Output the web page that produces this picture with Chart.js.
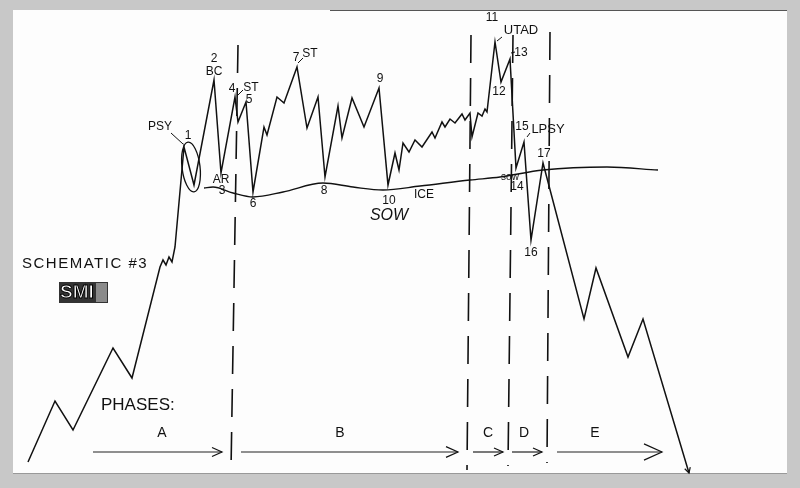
<!DOCTYPE html>
<html>
<head>
<meta charset="utf-8">
<script src="https://cdn.jsdelivr.net/npm/chart.js@4"></script>
<style>
  html, body { margin: 0; padding: 0; background: #c8c8c8; }
  #wrap { width: 800px; height: 488px; }
</style>
</head>
<body>
<div id="wrap"><canvas id="schematic" width="800" height="488"></canvas></div>
<script>
// time runs 0..800, price 0..488 (height above the bottom of the sheet)
const priceTime = [28, 55, 73, 113, 132, 160, 163, 166, 169, 172, 175, 184, 194, 214, 221, 235, 238, 246, 253,
  264, 267, 277, 284, 297, 307, 318, 325, 338, 342, 352, 364, 379, 388, 395, 399, 403, 409, 415, 422, 432, 435,
  442, 445, 450, 455, 462, 465, 470, 472, 478, 482, 485, 487, 495, 501, 510, 516, 524, 531, 543, 584, 596, 628, 643, 689];
const priceValues = [26, 87, 58, 140, 110, 221, 228, 223, 231, 226, 241, 341, 303, 408, 315, 391, 366, 386, 296,
  361, 353, 391, 385, 421, 360, 391, 311, 382, 350, 390, 361, 400, 303, 335, 318, 345, 336, 348, 341, 356, 350,
  366, 361, 369, 365, 374, 368, 375, 351, 375, 372, 379, 376, 446, 406, 429, 320, 346, 248, 325, 169, 220, 131, 169, 15];

// the wavy support line (ICE)
const iceTime = [204, 213, 233, 253, 283, 323, 353, 383, 420, 470, 500, 543, 607, 658];
const iceValues = [300, 301, 295, 291, 296, 305, 301, 298, 302, 308, 311, 318, 321, 318];

// dashed phase boundaries (top, bottom)
const boundaryTime = [[238, 231], [471, 467], [513, 508], [550, 547]];
const boundaryPrice = [[443, 18], [453, 18], [453, 22], [456, 25]];

// phase arrows
const phaseNames = ['A', 'B', 'C', 'D', 'E'];
const phaseFrom = [93, 241, 473, 512, 557];
const phaseTo = [222, 458, 503, 542, 662];
const phaseLevel = 36;

function pts(xs, ys) {
  return xs.map((x, i) => ({ x: x, y: ys[i] }));
}

const datasets = [];
datasets.push({
  data: pts(priceTime, priceValues),
  borderColor: '#111', borderWidth: 1.5, tension: 0
});
datasets.push({
  data: pts(iceTime, iceValues),
  borderColor: '#111', borderWidth: 1.3, cubicInterpolationMode: 'monotone'
});
boundaryTime.forEach((t, i) => {
  datasets.push({
    data: pts(t, boundaryPrice[i]),
    borderColor: '#111', borderWidth: 1.6, borderDash: [28, 15]
  });
});
phaseFrom.forEach((f, i) => {
  datasets.push({
    data: pts([f, phaseTo[i]], [phaseLevel, phaseLevel]),
    borderColor: '#222', borderWidth: 1.2
  });
});

// annotations: [text, time, price, size, style]
const notes = [
  ['PSY', 160, 361, 12], ['1', 188, 352, 12],
  ['2', 214, 429, 12], ['BC', 214, 416, 12],
  ['AR', 221, 308, 12], ['3', 222, 297, 12],
  ['4', 232, 399, 12], ['ST', 251, 400, 12], ['5', 249, 388, 12],
  ['6', 253, 284, 12],
  ['7', 296, 430, 12], ['ST', 310, 434, 12],
  ['8', 324, 297, 12], ['9', 380, 409, 12],
  ['10', 389, 287, 12], ['SOW', 389, 272, 16, 'italic '],
  ['ICE', 424, 293, 12],
  ['11', 492, 470, 12], ['UTAD', 521, 458, 13],
  ['12', 499, 396, 12], ['13', 521, 435, 12],
  ['15', 522, 361, 12], ['LPSY', 548, 359, 13],
  ['17', 544, 334, 12], ['sow', 510, 311, 10],
  ['14', 517, 301, 12], ['16', 531, 235, 12]
];
// little pointers: [t1, p1, t2, p2]
const pointers = [
  [171, 355, 183, 344], [243, 398, 237, 392], [303, 430, 298, 425],
  [502, 451, 497, 447], [515, 436, 511, 435], [530, 355, 527, 351]
];

const paper = {
  id: 'paper',
  beforeDraw(chart) {
    const c = chart.ctx;
    c.save();
    c.fillStyle = '#c8c8c8';
    c.fillRect(0, 0, 800, 488);
    c.fillStyle = '#fdfdfd';
    c.fillRect(13, 10, 774, 464);
    c.strokeStyle = '#555';
    c.lineWidth = 1;
    c.beginPath();
    c.moveTo(330, 10.5); c.lineTo(787, 10.5);
    c.stroke();
    c.strokeStyle = '#999';
    c.beginPath();
    c.moveTo(13, 473.5); c.lineTo(787, 473.5);
    c.stroke();
    c.restore();
  }
};

const marks = {
  id: 'marks',
  afterDatasetsDraw(chart) {
    const c = chart.ctx;
    const X = v => chart.scales.x.getPixelForValue(v);
    const Y = v => chart.scales.y.getPixelForValue(v);
    c.save();
    c.strokeStyle = '#111';
    c.fillStyle = '#111';
    c.lineWidth = 1.2;

    // arrow heads on the phase arrows
    const heads = [10, 12, 9, 9, 18];
    phaseTo.forEach((t, i) => {
      const x = X(t), y = Y(phaseLevel), h = heads[i];
      c.beginPath();
      c.moveTo(x - h, y - h * 0.45); c.lineTo(x, y); c.lineTo(x - h, y + h * 0.45);
      c.stroke();
    });

    // arrow head at the end of the markdown
    const n = priceTime.length;
    const ex = X(priceTime[n - 1]), ey = Y(priceValues[n - 1]);
    const ang = Math.atan2(ey - Y(priceValues[n - 2]), ex - X(priceTime[n - 2]));
    c.beginPath();
    c.moveTo(ex - 6 * Math.cos(ang - 0.5), ey - 6 * Math.sin(ang - 0.5));
    c.lineTo(ex, ey);
    c.lineTo(ex - 6 * Math.cos(ang + 0.5), ey - 6 * Math.sin(ang + 0.5));
    c.stroke();

    // ring around the preliminary supply
    c.lineWidth = 1.3;
    c.beginPath();
    c.ellipse(X(191), Y(321), 9, 25, -0.12, 0, Math.PI * 2);
    c.stroke();

    c.lineWidth = 1;
    pointers.forEach(p => {
      c.beginPath();
      c.moveTo(X(p[0]), Y(p[1])); c.lineTo(X(p[2]), Y(p[3]));
      c.stroke();
    });

    c.textAlign = 'center';
    c.textBaseline = 'middle';
    notes.forEach(nt => {
      c.font = (nt[4] || '') + nt[3] + 'px "Liberation Sans Narrow", "Liberation Sans", sans-serif';
      c.fillText(nt[0], X(nt[1]), Y(nt[2]));
    });

    // phase letters
    c.font = '14px "Liberation Sans", sans-serif';
    const letterX = [162, 340, 488, 524, 595];
    phaseNames.forEach((nm, i) => c.fillText(nm, X(letterX[i]), Y(55)));

    c.textAlign = 'left';
    c.font = '17px "Liberation Sans", sans-serif';
    c.fillText('PHASES:', 101, 405);

    c.font = '15px "Liberation Sans", sans-serif';
    c.letterSpacing = '1.5px';
    c.fillText('SCHEMATIC #3', 22, 264);
    c.letterSpacing = '0px';

    // SMI badge
    c.fillStyle = '#333';
    c.fillRect(59, 282, 49, 21);
    c.fillStyle = '#8a8a8a';
    c.fillRect(96, 283, 11, 19);
    c.font = 'bold 19px "Liberation Sans Narrow", "Liberation Sans", sans-serif';
    c.fillStyle = '#fff';
    c.strokeStyle = '#000';
    c.lineWidth = 1;
    c.fillText('SMI', 60, 293);
    c.strokeText('SMI', 60, 293);
    c.restore();
  }
};

new Chart(document.getElementById('schematic'), {
  type: 'line',
  data: { datasets: datasets },
  options: {
    responsive: false,
    animation: false,
    layout: { padding: 0 },
    elements: { point: { radius: 0 } },
    plugins: { legend: { display: false }, tooltip: { enabled: false } },
    scales: {
      x: { type: 'linear', min: 0, max: 800, display: false },
      y: { type: 'linear', min: 0, max: 488, display: false }
    }
  },
  plugins: [paper, marks]
});
</script>
</body>
</html>
